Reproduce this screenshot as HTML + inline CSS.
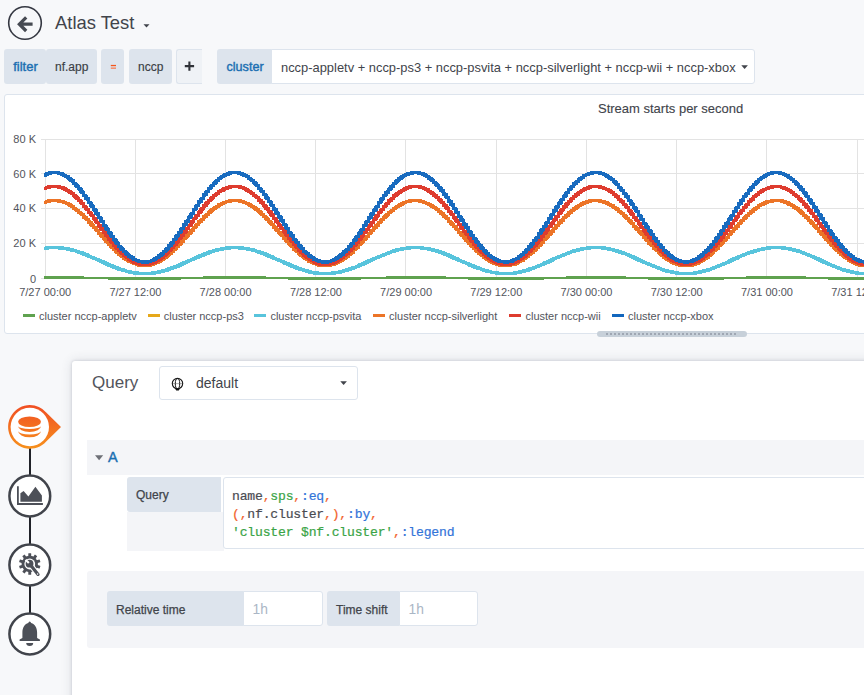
<!DOCTYPE html>
<html><head><meta charset="utf-8">
<style>
*{box-sizing:border-box;margin:0;padding:0}
html,body{width:864px;height:695px;overflow:hidden;background:#f7f8fa;font-family:"Liberation Sans",sans-serif;color:#52545c}
.abs{position:absolute}
.lbl{position:absolute;top:49px;height:35px;background:#dde4ed;font-size:13px;line-height:36px;color:#3b3e45;white-space:nowrap;-webkit-text-stroke-width:0.15px}
.kw{color:#1a6fb2;-webkit-text-stroke-width:0.4px}
.med{-webkit-text-stroke-width:0.25px}
</style></head><body>
<!-- header -->
<svg class="abs" style="left:0;top:0" width="50" height="46" viewBox="0 0 50 46">
 <circle cx="25" cy="23" r="16.3" fill="none" stroke="#343741" stroke-width="1.6"/>
 <path d="M26.2,17.4 L19.4,24.2 L26.2,31 M20,24.2 H32.6" fill="none" stroke="#464a52" stroke-width="3.3" stroke-linejoin="miter"/>
</svg>
<div class="abs" style="left:55px;top:10.7px;font-size:18.4px;line-height:24px;color:#41444b">Atlas Test</div>
<svg class="abs" style="left:143px;top:23.6px" width="7" height="4"><path d="M0.5,0.3 H6.5 L3.5,3.6Z" fill="#41444b"/></svg>

<!-- variables row -->
<div class="lbl kw" style="left:4px;width:42px;border-radius:3px;padding-left:9.2px;font-size:13px;line-height:36px">filter</div>
<div class="lbl" style="left:46px;width:51px;padding-left:9px;border-radius:3px;font-size:12px">nf.app</div>
<div class="lbl" style="left:101px;width:23px;border-radius:3px"></div><svg class="abs" style="left:110px;top:64px" width="7" height="6"><rect x="0.8" y="0.9" width="5.2" height="1.3" fill="#f4561c"/><rect x="0.8" y="3.5" width="5.2" height="1.3" fill="#f57d55"/></svg>
<div class="lbl" style="left:129px;width:43px;border-radius:3px;padding-left:9px;font-size:12px">nccp</div>
<div class="lbl" style="left:176px;width:26px;border-radius:3px 0 0 3px;background:#eff2f6;border:1px solid #dde4ed;border-right:none"></div>
<svg class="abs" style="left:184px;top:61px" width="11" height="11"><path d="M5.4,0.5V9.8M0.8,5.1H10.1" stroke="#2f3238" stroke-width="2.1"/></svg>
<div class="lbl kw" style="left:217px;width:55px;border-radius:3px 0 0 3px;padding-left:9.5px;font-size:12.6px;line-height:36.5px">cluster</div>
<div class="lbl" style="left:271px;width:484px;background:#fff;border:1px solid #dde4ed;border-radius:0 3px 3px 0;padding-left:9px;line-height:35.5px;font-size:12.9px;-webkit-text-stroke:0;color:#41444b">nccp-appletv + nccp-ps3 + nccp-psvita + nccp-silverlight + nccp-wii + nccp-xbox</div>
<svg class="abs" style="left:741px;top:65px" width="8" height="5"><path d="M0.3,0.3 H6.9 L3.6,3.9Z" fill="#41444b"/></svg>

<!-- panel -->
<div class="abs" style="left:4px;top:94px;width:1340px;height:240px;background:#fff;border:1px solid #dde4ed;border-radius:3px"></div>
<div class="abs" style="left:598px;top:101px;font-size:13px;line-height:16px;color:#41444b;white-space:nowrap;-webkit-text-stroke-width:0.12px">Stream starts per second</div>
<svg class="abs" style="left:0;top:0" width="864" height="340" viewBox="0 0 864 340">
 <g stroke="#e3e3e3" stroke-width="1" shape-rendering="crispEdges">
  <path d="M41,139.5H864M41,173.5H864M41,208.5H864M41,243.5H864M41,278.5H864"/>
  <path d="M45.5,139V279M135.5,139V279M225.5,139V279M315.5,139V279M405.5,139V279M496.5,139V279M586.5,139V279M676.5,139V279M766.5,139V279M857.5,139V279"/>
 </g>
 <g fill="none" stroke-width="3.5" stroke-linejoin="round" shape-rendering="crispEdges">
<path d="M43.5,277.7H46.0V277.7H48.5V277.7H51.0V277.7H53.5V277.7H56.0V277.7H58.5V277.7H61.0V277.7H63.5V277.7H66.0V277.7H68.5V277.8H71.0V277.8H73.5V277.8H76.0V277.8H78.5V277.8H81.0V277.8H83.5V277.9H86.0V277.9H88.5V277.9H91.0V277.9H93.5V277.9H96.0V278.0H98.5V278.0H101.0V278.0H103.5V278.0H106.0V278.0H108.5V278.1H111.0V278.1H113.5V278.1H116.0V278.1H118.5V278.1H121.0V278.2H123.5V278.2H126.0V278.2H128.5V278.2H131.0V278.2H133.5V278.2H136.0V278.2H138.5V278.2H141.0V278.2H143.5V278.2H146.0V278.2H148.5V278.2H151.0V278.2H153.5V278.2H156.0V278.2H158.5V278.2H161.0V278.2H163.5V278.2H166.0V278.2H168.5V278.1H171.0V278.1H173.5V278.1H176.0V278.1H178.5V278.1H181.0V278.0H183.5V278.0H186.0V278.0H188.5V278.0H191.0V278.0H193.5V277.9H196.0V277.9H198.5V277.9H201.0V277.9H203.5V277.8H206.0V277.8H208.5V277.8H211.0V277.8H213.5V277.8H216.0V277.8H218.5V277.8H221.0V277.7H223.5V277.7H226.0V277.7H228.5V277.7H231.0V277.7H233.5V277.7H236.0V277.7H238.5V277.7H241.0V277.7H243.5V277.7H246.0V277.7H248.5V277.8H251.0V277.8H253.5V277.8H256.0V277.8H258.5V277.8H261.0V277.8H263.5V277.8H266.0V277.9H268.5V277.9H271.0V277.9H273.5V277.9H276.0V278.0H278.5V278.0H281.0V278.0H283.5V278.0H286.0V278.0H288.5V278.1H291.0V278.1H293.5V278.1H296.0V278.1H298.5V278.1H301.0V278.2H303.5V278.2H306.0V278.2H308.5V278.2H311.0V278.2H313.5V278.2H316.0V278.2H318.5V278.2H321.0V278.2H323.5V278.2H326.0V278.2H328.5V278.2H331.0V278.2H333.5V278.2H336.0V278.2H338.5V278.2H341.0V278.2H343.5V278.2H346.0V278.2H348.5V278.1H351.0V278.1H353.5V278.1H356.0V278.1H358.5V278.1H361.0V278.0H363.5V278.0H366.0V278.0H368.5V278.0H371.0V278.0H373.5V277.9H376.0V277.9H378.5V277.9H381.0V277.9H383.5V277.9H386.0V277.8H388.5V277.8H391.0V277.8H393.5V277.8H396.0V277.8H398.5V277.8H401.0V277.7H403.5V277.7H406.0V277.7H408.5V277.7H411.0V277.7H413.5V277.7H416.0V277.7H418.5V277.7H421.0V277.7H423.5V277.7H426.0V277.7H428.5V277.8H431.0V277.8H433.5V277.8H436.0V277.8H438.5V277.8H441.0V277.8H443.5V277.8H446.0V277.9H448.5V277.9H451.0V277.9H453.5V277.9H456.0V278.0H458.5V278.0H461.0V278.0H463.5V278.0H466.0V278.0H468.5V278.1H471.0V278.1H473.5V278.1H476.0V278.1H478.5V278.1H481.0V278.2H483.5V278.2H486.0V278.2H488.5V278.2H491.0V278.2H493.5V278.2H496.0V278.2H498.5V278.2H501.0V278.2H503.5V278.2H506.0V278.2H508.5V278.2H511.0V278.2H513.5V278.2H516.0V278.2H518.5V278.2H521.0V278.2H523.5V278.2H526.0V278.2H528.5V278.2H531.0V278.1H533.5V278.1H536.0V278.1H538.5V278.1H541.0V278.1H543.5V278.0H546.0V278.0H548.5V278.0H551.0V278.0H553.5V277.9H556.0V277.9H558.5V277.9H561.0V277.9H563.5V277.9H566.0V277.8H568.5V277.8H571.0V277.8H573.5V277.8H576.0V277.8H578.5V277.8H581.0V277.7H583.5V277.7H586.0V277.7H588.5V277.7H591.0V277.7H593.5V277.7H596.0V277.7H598.5V277.7H601.0V277.7H603.5V277.7H606.0V277.7H608.5V277.7H611.0V277.8H613.5V277.8H616.0V277.8H618.5V277.8H621.0V277.8H623.5V277.8H626.0V277.9H628.5V277.9H631.0V277.9H633.5V277.9H636.0V277.9H638.5V278.0H641.0V278.0H643.5V278.0H646.0V278.0H648.5V278.1H651.0V278.1H653.5V278.1H656.0V278.1H658.5V278.1H661.0V278.2H663.5V278.2H666.0V278.2H668.5V278.2H671.0V278.2H673.5V278.2H676.0V278.2H678.5V278.2H681.0V278.2H683.5V278.2H686.0V278.2H688.5V278.2H691.0V278.2H693.5V278.2H696.0V278.2H698.5V278.2H701.0V278.2H703.5V278.2H706.0V278.2H708.5V278.2H711.0V278.1H713.5V278.1H716.0V278.1H718.5V278.1H721.0V278.1H723.5V278.0H726.0V278.0H728.5V278.0H731.0V278.0H733.5V277.9H736.0V277.9H738.5V277.9H741.0V277.9H743.5V277.9H746.0V277.8H748.5V277.8H751.0V277.8H753.5V277.8H756.0V277.8H758.5V277.8H761.0V277.7H763.5V277.7H766.0V277.7H768.5V277.7H771.0V277.7H773.5V277.7H776.0V277.7H778.5V277.7H781.0V277.7H783.5V277.7H786.0V277.7H788.5V277.7H791.0V277.8H793.5V277.8H796.0V277.8H798.5V277.8H801.0V277.8H803.5V277.8H806.0V277.9H808.5V277.9H811.0V277.9H813.5V277.9H816.0V277.9H818.5V278.0H821.0V278.0H823.5V278.0H826.0V278.0H828.5V278.1H831.0V278.1H833.5V278.1H836.0V278.1H838.5V278.1H841.0V278.2H843.5V278.2H846.0V278.2H848.5V278.2H851.0V278.2H853.5V278.2H856.0V278.2H858.5V278.2H861.0V278.2H863.5V278.2H866.0V278.2" stroke="#e6a81a" stroke-width="2.8"/>
<path d="M43.5,277.7H46.0V277.7H48.5V277.7H51.0V277.7H53.5V277.7H56.0V277.7H58.5V277.7H61.0V277.7H63.5V277.7H66.0V277.7H68.5V277.8H71.0V277.8H73.5V277.8H76.0V277.8H78.5V277.8H81.0V277.8H83.5V277.9H86.0V277.9H88.5V277.9H91.0V277.9H93.5V277.9H96.0V278.0H98.5V278.0H101.0V278.0H103.5V278.0H106.0V278.0H108.5V278.1H111.0V278.1H113.5V278.1H116.0V278.1H118.5V278.1H121.0V278.2H123.5V278.2H126.0V278.2H128.5V278.2H131.0V278.2H133.5V278.2H136.0V278.2H138.5V278.2H141.0V278.2H143.5V278.2H146.0V278.2H148.5V278.2H151.0V278.2H153.5V278.2H156.0V278.2H158.5V278.2H161.0V278.2H163.5V278.2H166.0V278.2H168.5V278.1H171.0V278.1H173.5V278.1H176.0V278.1H178.5V278.1H181.0V278.0H183.5V278.0H186.0V278.0H188.5V278.0H191.0V278.0H193.5V277.9H196.0V277.9H198.5V277.9H201.0V277.9H203.5V277.8H206.0V277.8H208.5V277.8H211.0V277.8H213.5V277.8H216.0V277.8H218.5V277.8H221.0V277.7H223.5V277.7H226.0V277.7H228.5V277.7H231.0V277.7H233.5V277.7H236.0V277.7H238.5V277.7H241.0V277.7H243.5V277.7H246.0V277.7H248.5V277.8H251.0V277.8H253.5V277.8H256.0V277.8H258.5V277.8H261.0V277.8H263.5V277.8H266.0V277.9H268.5V277.9H271.0V277.9H273.5V277.9H276.0V278.0H278.5V278.0H281.0V278.0H283.5V278.0H286.0V278.0H288.5V278.1H291.0V278.1H293.5V278.1H296.0V278.1H298.5V278.1H301.0V278.2H303.5V278.2H306.0V278.2H308.5V278.2H311.0V278.2H313.5V278.2H316.0V278.2H318.5V278.2H321.0V278.2H323.5V278.2H326.0V278.2H328.5V278.2H331.0V278.2H333.5V278.2H336.0V278.2H338.5V278.2H341.0V278.2H343.5V278.2H346.0V278.2H348.5V278.1H351.0V278.1H353.5V278.1H356.0V278.1H358.5V278.1H361.0V278.0H363.5V278.0H366.0V278.0H368.5V278.0H371.0V278.0H373.5V277.9H376.0V277.9H378.5V277.9H381.0V277.9H383.5V277.9H386.0V277.8H388.5V277.8H391.0V277.8H393.5V277.8H396.0V277.8H398.5V277.8H401.0V277.7H403.5V277.7H406.0V277.7H408.5V277.7H411.0V277.7H413.5V277.7H416.0V277.7H418.5V277.7H421.0V277.7H423.5V277.7H426.0V277.7H428.5V277.8H431.0V277.8H433.5V277.8H436.0V277.8H438.5V277.8H441.0V277.8H443.5V277.8H446.0V277.9H448.5V277.9H451.0V277.9H453.5V277.9H456.0V278.0H458.5V278.0H461.0V278.0H463.5V278.0H466.0V278.0H468.5V278.1H471.0V278.1H473.5V278.1H476.0V278.1H478.5V278.1H481.0V278.2H483.5V278.2H486.0V278.2H488.5V278.2H491.0V278.2H493.5V278.2H496.0V278.2H498.5V278.2H501.0V278.2H503.5V278.2H506.0V278.2H508.5V278.2H511.0V278.2H513.5V278.2H516.0V278.2H518.5V278.2H521.0V278.2H523.5V278.2H526.0V278.2H528.5V278.2H531.0V278.1H533.5V278.1H536.0V278.1H538.5V278.1H541.0V278.1H543.5V278.0H546.0V278.0H548.5V278.0H551.0V278.0H553.5V277.9H556.0V277.9H558.5V277.9H561.0V277.9H563.5V277.9H566.0V277.8H568.5V277.8H571.0V277.8H573.5V277.8H576.0V277.8H578.5V277.8H581.0V277.7H583.5V277.7H586.0V277.7H588.5V277.7H591.0V277.7H593.5V277.7H596.0V277.7H598.5V277.7H601.0V277.7H603.5V277.7H606.0V277.7H608.5V277.7H611.0V277.8H613.5V277.8H616.0V277.8H618.5V277.8H621.0V277.8H623.5V277.8H626.0V277.9H628.5V277.9H631.0V277.9H633.5V277.9H636.0V277.9H638.5V278.0H641.0V278.0H643.5V278.0H646.0V278.0H648.5V278.1H651.0V278.1H653.5V278.1H656.0V278.1H658.5V278.1H661.0V278.2H663.5V278.2H666.0V278.2H668.5V278.2H671.0V278.2H673.5V278.2H676.0V278.2H678.5V278.2H681.0V278.2H683.5V278.2H686.0V278.2H688.5V278.2H691.0V278.2H693.5V278.2H696.0V278.2H698.5V278.2H701.0V278.2H703.5V278.2H706.0V278.2H708.5V278.2H711.0V278.1H713.5V278.1H716.0V278.1H718.5V278.1H721.0V278.1H723.5V278.0H726.0V278.0H728.5V278.0H731.0V278.0H733.5V277.9H736.0V277.9H738.5V277.9H741.0V277.9H743.5V277.9H746.0V277.8H748.5V277.8H751.0V277.8H753.5V277.8H756.0V277.8H758.5V277.8H761.0V277.7H763.5V277.7H766.0V277.7H768.5V277.7H771.0V277.7H773.5V277.7H776.0V277.7H778.5V277.7H781.0V277.7H783.5V277.7H786.0V277.7H788.5V277.7H791.0V277.8H793.5V277.8H796.0V277.8H798.5V277.8H801.0V277.8H803.5V277.8H806.0V277.9H808.5V277.9H811.0V277.9H813.5V277.9H816.0V277.9H818.5V278.0H821.0V278.0H823.5V278.0H826.0V278.0H828.5V278.1H831.0V278.1H833.5V278.1H836.0V278.1H838.5V278.1H841.0V278.2H843.5V278.2H846.0V278.2H848.5V278.2H851.0V278.2H853.5V278.2H856.0V278.2H858.5V278.2H861.0V278.2H863.5V278.2H866.0V278.2" stroke="#5fa24f" stroke-width="2.8"/>
<path d="M43.5,248.3H46.0V248.0H48.5V247.7H51.0V247.6H53.5V247.6H56.0V247.6H58.5V247.8H61.0V248.1H63.5V248.4H66.0V248.9H68.5V249.4H71.0V250.0H73.5V250.7H76.0V251.5H78.5V252.3H81.0V253.2H83.5V254.2H86.0V255.2H88.5V256.3H91.0V257.4H93.5V258.5H96.0V259.6H98.5V260.7H101.0V261.9H103.5V263.0H106.0V264.1H108.5V265.2H111.0V266.2H113.5V267.2H116.0V268.2H118.5V269.1H121.0V269.9H123.5V270.6H126.0V271.3H128.5V271.9H131.0V272.5H133.5V272.9H136.0V273.2H138.5V273.5H141.0V273.6H143.5V273.6H146.0V273.6H148.5V273.4H151.0V273.2H153.5V272.8H156.0V272.4H158.5V271.9H161.0V271.2H163.5V270.6H166.0V269.8H168.5V268.9H171.0V268.0H173.5V267.1H176.0V266.1H178.5V265.0H181.0V263.9H183.5V262.8H186.0V261.7H188.5V260.6H191.0V259.4H193.5V258.3H196.0V257.2H198.5V256.1H201.0V255.1H203.5V254.1H206.0V253.1H208.5V252.2H211.0V251.4H213.5V250.6H216.0V249.9H218.5V249.3H221.0V248.8H223.5V248.4H226.0V248.0H228.5V247.8H231.0V247.6H233.5V247.6H236.0V247.6H238.5V247.8H241.0V248.0H243.5V248.3H246.0V248.8H248.5V249.3H251.0V249.9H253.5V250.6H256.0V251.4H258.5V252.2H261.0V253.1H263.5V254.0H266.0V255.0H268.5V256.1H271.0V257.2H273.5V258.3H276.0V259.4H278.5V260.5H281.0V261.7H283.5V262.8H286.0V263.9H288.5V265.0H291.0V266.0H293.5V267.0H296.0V268.0H298.5V268.9H301.0V269.7H303.5V270.5H306.0V271.2H308.5V271.8H311.0V272.4H313.5V272.8H316.0V273.2H318.5V273.4H321.0V273.6H323.5V273.6H326.0V273.6H328.5V273.5H331.0V273.2H333.5V272.9H336.0V272.5H338.5V272.0H341.0V271.4H343.5V270.7H346.0V269.9H348.5V269.1H351.0V268.2H353.5V267.3H356.0V266.3H358.5V265.2H361.0V264.1H363.5V263.0H366.0V261.9H368.5V260.8H371.0V259.6H373.5V258.5H376.0V257.4H378.5V256.3H381.0V255.3H383.5V254.3H386.0V253.3H388.5V252.4H391.0V251.5H393.5V250.8H396.0V250.0H398.5V249.4H401.0V248.9H403.5V248.4H406.0V248.1H408.5V247.8H411.0V247.6H413.5V247.6H416.0V247.6H418.5V247.7H421.0V248.0H423.5V248.3H426.0V248.7H428.5V249.2H431.0V249.8H433.5V250.5H436.0V251.2H438.5V252.0H441.0V252.9H443.5V253.9H446.0V254.9H448.5V255.9H451.0V257.0H453.5V258.1H456.0V259.2H458.5V260.3H461.0V261.5H463.5V262.6H466.0V263.7H468.5V264.8H471.0V265.8H473.5V266.9H476.0V267.8H478.5V268.7H481.0V269.6H483.5V270.4H486.0V271.1H488.5V271.7H491.0V272.3H493.5V272.7H496.0V273.1H498.5V273.4H501.0V273.6H503.5V273.6H506.0V273.6H508.5V273.5H511.0V273.3H513.5V273.0H516.0V272.6H518.5V272.1H521.0V271.5H523.5V270.8H526.0V270.1H528.5V269.2H531.0V268.4H533.5V267.4H536.0V266.4H538.5V265.4H541.0V264.3H543.5V263.2H546.0V262.1H548.5V261.0H551.0V259.8H553.5V258.7H556.0V257.6H558.5V256.5H561.0V255.5H563.5V254.4H566.0V253.5H568.5V252.5H571.0V251.7H573.5V250.9H576.0V250.2H578.5V249.5H581.0V249.0H583.5V248.5H586.0V248.1H588.5V247.9H591.0V247.7H593.5V247.6H596.0V247.6H598.5V247.7H601.0V247.9H603.5V248.2H606.0V248.6H608.5V249.1H611.0V249.7H613.5V250.3H616.0V251.1H618.5V251.9H621.0V252.8H623.5V253.7H626.0V254.7H628.5V255.7H631.0V256.8H633.5V257.9H636.0V259.0H638.5V260.1H641.0V261.3H643.5V262.4H646.0V263.5H648.5V264.6H651.0V265.7H653.5V266.7H656.0V267.7H658.5V268.6H661.0V269.5H663.5V270.3H666.0V271.0H668.5V271.6H671.0V272.2H673.5V272.7H676.0V273.0H678.5V273.3H681.0V273.5H683.5V273.6H686.0V273.6H688.5V273.5H691.0V273.3H693.5V273.0H696.0V272.6H698.5V272.2H701.0V271.6H703.5V270.9H706.0V270.2H708.5V269.4H711.0V268.5H713.5V267.6H716.0V266.6H718.5V265.6H721.0V264.5H723.5V263.4H726.0V262.3H728.5V261.2H731.0V260.0H733.5V258.9H736.0V257.8H738.5V256.7H741.0V255.6H743.5V254.6H746.0V253.6H748.5V252.7H751.0V251.8H753.5V251.0H756.0V250.3H758.5V249.6H761.0V249.1H763.5V248.6H766.0V248.2H768.5V247.9H771.0V247.7H773.5V247.6H776.0V247.6H778.5V247.7H781.0V247.9H783.5V248.2H786.0V248.5H788.5V249.0H791.0V249.6H793.5V250.2H796.0V250.9H798.5V251.7H801.0V252.6H803.5V253.5H806.0V254.5H808.5V255.5H811.0V256.6H813.5V257.7H816.0V258.8H818.5V259.9H821.0V261.1H823.5V262.2H826.0V263.3H828.5V264.4H831.0V265.5H833.5V266.5H836.0V267.5H838.5V268.4H841.0V269.3H843.5V270.1H846.0V270.9H848.5V271.5H851.0V272.1H853.5V272.6H856.0V273.0H858.5V273.3H861.0V273.5H863.5V273.6H866.0V273.6" stroke="#58c4dc"/>
<path d="M43.5,202.3H46.0V201.5H48.5V200.9H51.0V200.6H53.5V200.5H56.0V200.7H58.5V201.1H61.0V201.7H63.5V202.6H66.0V203.7H68.5V205.0H71.0V206.6H73.5V208.4H76.0V210.3H78.5V212.4H81.0V214.7H83.5V217.1H86.0V219.6H88.5V222.2H91.0V225.0H93.5V227.7H96.0V230.5H98.5V233.4H101.0V236.2H103.5V239.0H106.0V241.8H108.5V244.5H111.0V247.1H113.5V249.6H116.0V252.0H118.5V254.2H121.0V256.3H123.5V258.2H126.0V259.9H128.5V261.4H131.0V262.7H133.5V263.7H136.0V264.6H138.5V265.2H141.0V265.5H143.5V265.6H146.0V265.5H148.5V265.1H151.0V264.5H153.5V263.6H156.0V262.5H158.5V261.2H161.0V259.7H163.5V257.9H166.0V256.0H168.5V253.9H171.0V251.7H173.5V249.3H176.0V246.7H178.5V244.1H181.0V241.4H183.5V238.7H186.0V235.8H188.5V233.0H191.0V230.2H193.5V227.4H196.0V224.6H198.5V221.9H201.0V219.3H203.5V216.8H206.0V214.4H208.5V212.1H211.0V210.0H213.5V208.1H216.0V206.4H218.5V204.9H221.0V203.6H223.5V202.5H226.0V201.6H228.5V201.0H231.0V200.6H233.5V200.5H236.0V200.6H238.5V201.0H241.0V201.6H243.5V202.4H246.0V203.5H248.5V204.8H251.0V206.3H253.5V208.0H256.0V209.9H258.5V212.0H261.0V214.3H263.5V216.6H266.0V219.2H268.5V221.8H271.0V224.5H273.5V227.2H276.0V230.0H278.5V232.9H281.0V235.7H283.5V238.5H286.0V241.3H288.5V244.0H291.0V246.6H293.5V249.2H296.0V251.6H298.5V253.8H301.0V255.9H303.5V257.9H306.0V259.6H308.5V261.1H311.0V262.5H313.5V263.6H316.0V264.5H318.5V265.1H321.0V265.5H323.5V265.6H326.0V265.5H328.5V265.2H331.0V264.6H333.5V263.8H336.0V262.7H338.5V261.5H341.0V260.0H343.5V258.3H346.0V256.4H348.5V254.3H351.0V252.1H353.5V249.7H356.0V247.2H358.5V244.6H361.0V241.9H363.5V239.1H366.0V236.3H368.5V233.5H371.0V230.7H373.5V227.9H376.0V225.1H378.5V222.4H381.0V219.7H383.5V217.2H386.0V214.8H388.5V212.5H391.0V210.4H393.5V208.4H396.0V206.7H398.5V205.1H401.0V203.8H403.5V202.6H406.0V201.7H408.5V201.1H411.0V200.7H413.5V200.5H416.0V200.6H418.5V200.9H421.0V201.4H423.5V202.3H426.0V203.3H428.5V204.6H431.0V206.0H433.5V207.7H436.0V209.6H438.5V211.6H441.0V213.9H443.5V216.2H446.0V218.7H448.5V221.3H451.0V224.0H453.5V226.7H456.0V229.5H458.5V232.4H461.0V235.2H463.5V238.0H466.0V240.8H468.5V243.5H471.0V246.2H473.5V248.7H476.0V251.1H478.5V253.4H481.0V255.6H483.5V257.5H486.0V259.3H488.5V260.9H491.0V262.3H493.5V263.4H496.0V264.3H498.5V265.0H501.0V265.4H503.5V265.6H506.0V265.6H508.5V265.3H511.0V264.7H513.5V264.0H516.0V262.9H518.5V261.7H521.0V260.2H523.5V258.6H526.0V256.7H528.5V254.7H531.0V252.5H533.5V250.1H536.0V247.6H538.5V245.1H541.0V242.4H543.5V239.6H546.0V236.8H548.5V234.0H551.0V231.2H553.5V228.3H556.0V225.6H558.5V222.8H561.0V220.2H563.5V217.6H566.0V215.2H568.5V212.9H571.0V210.7H573.5V208.8H576.0V207.0H578.5V205.4H581.0V204.0H583.5V202.8H586.0V201.9H588.5V201.2H591.0V200.7H593.5V200.5H596.0V200.5H598.5V200.8H601.0V201.3H603.5V202.1H606.0V203.1H608.5V204.3H611.0V205.8H613.5V207.4H616.0V209.2H618.5V211.3H621.0V213.5H623.5V215.8H626.0V218.3H628.5V220.8H631.0V223.5H633.5V226.3H636.0V229.0H638.5V231.9H641.0V234.7H643.5V237.5H646.0V240.3H648.5V243.1H651.0V245.7H653.5V248.3H656.0V250.7H658.5V253.0H661.0V255.2H663.5V257.2H666.0V259.0H668.5V260.6H671.0V262.0H673.5V263.2H676.0V264.2H678.5V264.9H681.0V265.4H683.5V265.6H686.0V265.6H688.5V265.4H691.0V264.9H693.5V264.1H696.0V263.1H698.5V261.9H701.0V260.5H703.5V258.9H706.0V257.1H708.5V255.0H711.0V252.9H713.5V250.5H716.0V248.1H718.5V245.5H721.0V242.9H723.5V240.1H726.0V237.3H728.5V234.5H731.0V231.7H733.5V228.8H736.0V226.1H738.5V223.3H741.0V220.6H743.5V218.1H746.0V215.6H748.5V213.3H751.0V211.1H753.5V209.1H756.0V207.3H758.5V205.6H761.0V204.2H763.5V203.0H766.0V202.0H768.5V201.3H771.0V200.8H773.5V200.5H776.0V200.5H778.5V200.7H781.0V201.2H783.5V201.9H786.0V202.9H788.5V204.1H791.0V205.5H793.5V207.1H796.0V208.9H798.5V210.9H801.0V213.1H803.5V215.4H806.0V217.8H808.5V220.4H811.0V223.0H813.5V225.8H816.0V228.6H818.5V231.4H821.0V234.2H823.5V237.0H826.0V239.8H828.5V242.6H831.0V245.3H833.5V247.8H836.0V250.3H838.5V252.6H841.0V254.8H843.5V256.9H846.0V258.7H848.5V260.4H851.0V261.8H853.5V263.0H856.0V264.0H858.5V264.8H861.0V265.3H863.5V265.6H866.0V265.6" stroke="#ec7427"/>
<path d="M43.5,188.6H46.0V187.6H48.5V186.9H51.0V186.5H53.5V186.4H56.0V186.6H58.5V187.1H61.0V187.9H63.5V188.9H66.0V190.3H68.5V191.9H71.0V193.7H73.5V195.8H76.0V198.2H78.5V200.7H81.0V203.4H83.5V206.3H86.0V209.3H88.5V212.5H91.0V215.7H93.5V219.0H96.0V222.4H98.5V225.8H101.0V229.2H103.5V232.5H106.0V235.8H108.5V239.1H111.0V242.2H113.5V245.2H116.0V248.0H118.5V250.7H121.0V253.2H123.5V255.5H126.0V257.5H128.5V259.3H131.0V260.9H133.5V262.2H136.0V263.2H138.5V263.9H141.0V264.3H143.5V264.4H146.0V264.3H148.5V263.8H151.0V263.0H153.5V262.0H156.0V260.7H158.5V259.1H161.0V257.3H163.5V255.2H166.0V252.9H168.5V250.4H171.0V247.7H173.5V244.8H176.0V241.8H178.5V238.7H181.0V235.4H183.5V232.1H186.0V228.7H188.5V225.3H191.0V222.0H193.5V218.6H196.0V215.3H198.5V212.0H201.0V208.9H203.5V205.9H206.0V203.0H208.5V200.3H211.0V197.8H213.5V195.5H216.0V193.5H218.5V191.7H221.0V190.1H223.5V188.8H226.0V187.8H228.5V187.0H231.0V186.6H233.5V186.4H236.0V186.6H238.5V187.0H241.0V187.7H243.5V188.7H246.0V190.0H248.5V191.6H251.0V193.4H253.5V195.4H256.0V197.7H258.5V200.2H261.0V202.9H263.5V205.8H266.0V208.8H268.5V211.9H271.0V215.1H273.5V218.4H276.0V221.8H278.5V225.2H281.0V228.6H283.5V232.0H286.0V235.3H288.5V238.5H291.0V241.7H293.5V244.7H296.0V247.6H298.5V250.3H301.0V252.8H303.5V255.1H306.0V257.2H308.5V259.0H311.0V260.6H313.5V262.0H316.0V263.0H318.5V263.8H321.0V264.2H323.5V264.4H326.0V264.3H328.5V263.9H331.0V263.2H333.5V262.2H336.0V260.9H338.5V259.4H341.0V257.6H343.5V255.6H346.0V253.3H348.5V250.8H351.0V248.2H353.5V245.3H356.0V242.3H358.5V239.2H361.0V236.0H363.5V232.7H366.0V229.3H368.5V225.9H371.0V222.6H373.5V219.2H376.0V215.9H378.5V212.6H381.0V209.5H383.5V206.4H386.0V203.5H388.5V200.8H391.0V198.3H393.5V195.9H396.0V193.8H398.5V192.0H401.0V190.3H403.5V189.0H406.0V187.9H408.5V187.1H411.0V186.6H413.5V186.4H416.0V186.5H418.5V186.9H421.0V187.6H423.5V188.5H426.0V189.8H428.5V191.3H431.0V193.1H433.5V195.1H436.0V197.3H438.5V199.8H441.0V202.4H443.5V205.2H446.0V208.2H448.5V211.3H451.0V214.6H453.5V217.9H456.0V221.2H458.5V224.6H461.0V228.0H463.5V231.4H466.0V234.7H468.5V237.9H471.0V241.1H473.5V244.2H476.0V247.1H478.5V249.8H481.0V252.4H483.5V254.7H486.0V256.8H488.5V258.7H491.0V260.4H493.5V261.7H496.0V262.8H498.5V263.7H501.0V264.2H503.5V264.4H506.0V264.4H508.5V264.0H511.0V263.3H513.5V262.4H516.0V261.2H518.5V259.7H521.0V258.0H523.5V256.0H526.0V253.7H528.5V251.3H531.0V248.7H533.5V245.8H536.0V242.9H538.5V239.8H541.0V236.6H543.5V233.3H546.0V229.9H548.5V226.5H551.0V223.2H553.5V219.8H556.0V216.4H558.5V213.2H561.0V210.0H563.5V206.9H566.0V204.0H568.5V201.3H571.0V198.7H573.5V196.3H576.0V194.2H578.5V192.3H581.0V190.6H583.5V189.2H586.0V188.1H588.5V187.2H591.0V186.7H593.5V186.4H596.0V186.5H598.5V186.8H601.0V187.4H603.5V188.3H606.0V189.5H608.5V191.0H611.0V192.7H613.5V194.7H616.0V196.9H618.5V199.3H621.0V201.9H623.5V204.7H626.0V207.7H628.5V210.8H631.0V214.0H633.5V217.3H636.0V220.6H638.5V224.0H641.0V227.4H643.5V230.8H646.0V234.1H648.5V237.4H651.0V240.6H653.5V243.6H656.0V246.6H658.5V249.3H661.0V251.9H663.5V254.3H666.0V256.5H668.5V258.4H671.0V260.1H673.5V261.5H676.0V262.7H678.5V263.5H681.0V264.1H683.5V264.4H686.0V264.4H688.5V264.1H691.0V263.5H693.5V262.6H696.0V261.4H698.5V260.0H701.0V258.3H703.5V256.3H706.0V254.1H708.5V251.7H711.0V249.1H713.5V246.4H716.0V243.4H718.5V240.3H721.0V237.1H723.5V233.9H726.0V230.5H728.5V227.1H731.0V223.7H733.5V220.4H736.0V217.0H738.5V213.7H741.0V210.5H743.5V207.5H746.0V204.5H748.5V201.7H751.0V199.1H753.5V196.7H756.0V194.5H758.5V192.6H761.0V190.9H763.5V189.4H766.0V188.3H768.5V187.4H771.0V186.8H773.5V186.5H776.0V186.4H778.5V186.7H781.0V187.3H783.5V188.2H786.0V189.3H788.5V190.7H791.0V192.4H793.5V194.3H796.0V196.5H798.5V198.9H801.0V201.5H803.5V204.2H806.0V207.2H808.5V210.2H811.0V213.4H813.5V216.7H816.0V220.0H818.5V223.4H821.0V226.8H823.5V230.2H826.0V233.5H828.5V236.8H831.0V240.0H833.5V243.1H836.0V246.1H838.5V248.9H841.0V251.5H843.5V253.9H846.0V256.1H848.5V258.1H851.0V259.8H853.5V261.3H856.0V262.5H858.5V263.4H861.0V264.0H863.5V264.4H866.0V264.4" stroke="#de3c2f"/>
<path d="M43.5,175.0H46.0V173.9H48.5V173.1H51.0V172.6H53.5V172.5H56.0V172.7H58.5V173.3H61.0V174.2H63.5V175.4H66.0V176.9H68.5V178.8H71.0V180.9H73.5V183.3H76.0V186.0H78.5V188.9H81.0V192.0H83.5V195.3H86.0V198.8H88.5V202.4H91.0V206.1H93.5V209.9H96.0V213.8H98.5V217.7H101.0V221.6H103.5V225.4H106.0V229.2H108.5V232.9H111.0V236.5H113.5V239.9H116.0V243.2H118.5V246.3H121.0V249.1H123.5V251.7H126.0V254.1H128.5V256.2H131.0V257.9H133.5V259.4H136.0V260.5H138.5V261.4H141.0V261.8H143.5V262.0H146.0V261.8H148.5V261.3H151.0V260.4H153.5V259.2H156.0V257.7H158.5V255.9H161.0V253.8H163.5V251.4H166.0V248.8H168.5V245.9H171.0V242.8H173.5V239.5H176.0V236.0H178.5V232.4H181.0V228.7H183.5V224.9H186.0V221.1H188.5V217.2H191.0V213.3H193.5V209.4H196.0V205.6H198.5V201.9H201.0V198.3H203.5V194.9H206.0V191.6H208.5V188.5H211.0V185.6H213.5V183.0H216.0V180.6H218.5V178.5H221.0V176.7H223.5V175.2H226.0V174.1H228.5V173.2H231.0V172.7H233.5V172.5H236.0V172.7H238.5V173.2H241.0V174.0H243.5V175.2H246.0V176.6H248.5V178.4H251.0V180.5H253.5V182.9H256.0V185.5H258.5V188.4H261.0V191.4H263.5V194.7H266.0V198.2H268.5V201.7H271.0V205.4H273.5V209.2H276.0V213.1H278.5V217.0H281.0V220.9H283.5V224.7H286.0V228.6H288.5V232.3H291.0V235.9H293.5V239.3H296.0V242.6H298.5V245.8H301.0V248.6H303.5V251.3H306.0V253.7H308.5V255.8H311.0V257.6H313.5V259.2H316.0V260.4H318.5V261.2H321.0V261.8H323.5V262.0H326.0V261.9H328.5V261.4H331.0V260.6H333.5V259.5H336.0V258.0H338.5V256.2H341.0V254.2H343.5V251.9H346.0V249.3H348.5V246.4H351.0V243.4H353.5V240.1H356.0V236.7H358.5V233.1H361.0V229.4H363.5V225.6H366.0V221.7H368.5V217.9H371.0V214.0H373.5V210.1H376.0V206.3H378.5V202.6H381.0V198.9H383.5V195.5H386.0V192.1H388.5V189.0H391.0V186.1H393.5V183.4H396.0V181.0H398.5V178.9H401.0V177.0H403.5V175.5H406.0V174.2H408.5V173.3H411.0V172.8H413.5V172.5H416.0V172.6H418.5V173.1H421.0V173.8H423.5V174.9H426.0V176.4H428.5V178.1H431.0V180.1H433.5V182.4H436.0V185.0H438.5V187.8H441.0V190.9H443.5V194.1H446.0V197.5H448.5V201.1H451.0V204.8H453.5V208.6H456.0V212.4H458.5V216.3H461.0V220.2H463.5V224.1H466.0V227.9H468.5V231.6H471.0V235.3H473.5V238.7H476.0V242.1H478.5V245.2H481.0V248.2H483.5V250.8H486.0V253.3H488.5V255.5H491.0V257.3H493.5V258.9H496.0V260.2H498.5V261.1H501.0V261.7H503.5V262.0H506.0V261.9H508.5V261.5H511.0V260.8H513.5V259.7H516.0V258.3H518.5V256.6H521.0V254.6H523.5V252.3H526.0V249.7H528.5V246.9H531.0V243.9H533.5V240.7H536.0V237.3H538.5V233.7H541.0V230.0H543.5V226.3H546.0V222.4H548.5V218.5H551.0V214.7H553.5V210.8H556.0V207.0H558.5V203.2H561.0V199.6H563.5V196.1H566.0V192.7H568.5V189.6H571.0V186.6H573.5V183.9H576.0V181.4H578.5V179.2H581.0V177.3H583.5V175.7H586.0V174.4H588.5V173.5H591.0V172.8H593.5V172.5H596.0V172.6H598.5V173.0H601.0V173.7H603.5V174.7H606.0V176.1H608.5V177.8H611.0V179.7H613.5V182.0H616.0V184.5H618.5V187.3H621.0V190.3H623.5V193.5H626.0V196.9H628.5V200.5H631.0V204.1H633.5V207.9H636.0V211.7H638.5V215.6H641.0V219.5H643.5V223.4H646.0V227.2H648.5V231.0H651.0V234.6H653.5V238.1H656.0V241.5H658.5V244.7H661.0V247.7H663.5V250.4H666.0V252.9H668.5V255.1H671.0V257.0H673.5V258.7H676.0V260.0H678.5V261.0H681.0V261.6H683.5V262.0H686.0V261.9H688.5V261.6H691.0V260.9H693.5V259.9H696.0V258.5H698.5V256.9H701.0V254.9H703.5V252.7H706.0V250.2H708.5V247.4H711.0V244.5H713.5V241.3H716.0V237.9H718.5V234.4H721.0V230.7H723.5V226.9H726.0V223.1H728.5V219.2H731.0V215.3H733.5V211.5H736.0V207.6H738.5V203.9H741.0V200.2H743.5V196.7H746.0V193.3H748.5V190.1H751.0V187.1H753.5V184.3H756.0V181.8H758.5V179.6H761.0V177.6H763.5V176.0H766.0V174.6H768.5V173.6H771.0V172.9H773.5V172.6H776.0V172.5H778.5V172.9H781.0V173.5H783.5V174.5H786.0V175.8H788.5V177.5H791.0V179.4H793.5V181.6H796.0V184.1H798.5V186.8H801.0V189.8H803.5V193.0H806.0V196.3H808.5V199.8H811.0V203.5H813.5V207.2H816.0V211.1H818.5V214.9H821.0V218.8H823.5V222.7H826.0V226.6H828.5V230.3H831.0V234.0H833.5V237.5H836.0V240.9H838.5V244.1H841.0V247.1H843.5V249.9H846.0V252.5H848.5V254.7H851.0V256.7H853.5V258.4H856.0V259.8H858.5V260.8H861.0V261.5H863.5V261.9H866.0V262.0" stroke="#186bbf"/>
 </g>
 <g font-family="Liberation Sans" font-size="11" fill="#52545c" text-anchor="end">
  <text x="36" y="143">80 K</text><text x="36" y="177.5">60 K</text><text x="36" y="212.3">40 K</text><text x="36" y="247.1">20 K</text><text x="36" y="282.5">0</text>
 </g>
 <g font-family="Liberation Sans" font-size="11" fill="#52545c" text-anchor="middle">
  <text x="45.2" y="296">7/27 00:00</text><text x="135.4" y="296">7/27 12:00</text><text x="225.6" y="296">7/28 00:00</text><text x="315.9" y="296">7/28 12:00</text><text x="406.1" y="296">7/29 00:00</text><text x="496.3" y="296">7/29 12:00</text><text x="586.5" y="296">7/30 00:00</text><text x="676.7" y="296">7/30 12:00</text><text x="767.0" y="296">7/31 00:00</text><text x="857.2" y="296">7/31 12:00</text>
 </g>
</svg>
<!-- legend -->
<div class="abs" style="left:23px;top:314px;width:12px;height:3px;background:#5fa24f"></div><div class="abs" style="left:39px;top:308px;font-size:11px;line-height:16px;color:#52545c;white-space:nowrap">cluster nccp-appletv</div>
<div class="abs" style="left:147.8px;top:314px;width:12px;height:3px;background:#e6a81a"></div><div class="abs" style="left:163.8px;top:308px;font-size:11px;line-height:16px;color:#52545c;white-space:nowrap">cluster nccp-ps3</div>
<div class="abs" style="left:254.4px;top:314px;width:12px;height:3px;background:#58c4dc"></div><div class="abs" style="left:270.4px;top:308px;font-size:11px;line-height:16px;color:#52545c;white-space:nowrap">cluster nccp-psvita</div>
<div class="abs" style="left:373.1px;top:314px;width:12px;height:3px;background:#ec7427"></div><div class="abs" style="left:389.1px;top:308px;font-size:11px;line-height:16px;color:#52545c;white-space:nowrap">cluster nccp-silverlight</div>
<div class="abs" style="left:509px;top:314px;width:12px;height:3px;background:#de3c2f"></div><div class="abs" style="left:525.5px;top:308px;font-size:11px;line-height:16px;color:#52545c;white-space:nowrap">cluster nccp-wii</div>
<div class="abs" style="left:611.8px;top:314px;width:12px;height:3px;background:#1266bd"></div><div class="abs" style="left:628px;top:308px;font-size:11px;line-height:16px;color:#52545c;white-space:nowrap">cluster nccp-xbox</div>
<!-- resize handle -->
<div class="abs" style="left:597px;top:330.8px;width:150px;height:6px;background:#c7d0d9;border-radius:3px"></div>
<div class="abs" style="left:606px;top:332.5px;width:132px;height:2px;background:repeating-linear-gradient(90deg,#9fa7b3 0 2px,transparent 2px 4px)"></div>

<!-- query editor area -->
<div class="abs" style="left:72px;top:361px;width:820px;height:360px;background:#fff;border-radius:3px;box-shadow:0 0 3px rgba(50,60,80,0.22),0 0 12px rgba(50,60,80,0.14)"></div>
<div class="abs" style="left:92px;top:372px;font-size:17px;line-height:22px;color:#52545c">Query</div>
<div class="abs" style="left:159px;top:366px;width:199px;height:34px;border:1px solid #dde4ed;border-radius:3px;background:#fff"></div>
<svg class="abs" style="left:171px;top:377px" width="13" height="15" viewBox="0 0 13 15"><circle cx="6.5" cy="6.6" r="5.2" fill="none" stroke="#1a1a1a" stroke-width="1.15"/><ellipse cx="6.5" cy="6.6" rx="2.2" ry="5" fill="none" stroke="#1a1a1a" stroke-width="1"/><path d="M1.5,6.6H11.5" stroke="#1a1a1a" stroke-width="0.7" stroke-dasharray="1 1"/><path d="M4.2,11.7H8.8L7.8,13.5H5.2Z" fill="#111"/></svg>
<div class="abs" style="left:196px;top:375px;font-size:14px;line-height:17px;color:#41444b">default</div>
<svg class="abs" style="left:340px;top:381px" width="8" height="5"><path d="M0.3,0.3 H6.9 L3.6,3.9Z" fill="#41444b"/></svg>

<div class="abs" style="left:87px;top:440px;width:800px;height:35px;background:#f4f5f8"></div>
<svg class="abs" style="left:95px;top:455px" width="9" height="6"><path d="M0,0.3H8.2L4.1,5.3Z" fill="#6e7077"/></svg>
<div class="abs kw" style="left:108px;top:448px;font-size:14.5px;line-height:18px">A</div>

<div class="abs" style="left:127px;top:512px;width:97px;height:39px;background:#f4f5f8"></div>
<div class="abs med" style="left:127px;top:477px;width:94px;height:35px;background:#dde4ed;border-radius:3px 0 0 3px;font-size:12px;line-height:37px;padding-left:9px;color:#41444b">Query</div>
<div class="abs" style="left:223px;top:477px;width:700px;height:72px;border:1px solid #dde4ed;border-radius:3px;background:#fff"></div>
<div class="abs" style="left:232px;top:487.5px;font-family:'Liberation Mono',monospace;font-size:13.1px;letter-spacing:-0.19px;line-height:18px;color:#4a4c52;white-space:pre;-webkit-text-stroke-width:0.2px">name<span style="color:#f2622d">,</span><span style="color:#3aa446">sps</span><span style="color:#f2622d">,</span><span style="color:#3274d9">:eq</span><span style="color:#f2622d">,</span>
<span style="color:#f2622d">(,</span>nf.cluster<span style="color:#f2622d">,),</span><span style="color:#3274d9">:by</span><span style="color:#f2622d">,</span>
<span style="color:#3aa446">'cluster $nf.cluster'</span><span style="color:#f2622d">,</span><span style="color:#3274d9">:legend</span></div>

<div class="abs" style="left:87px;top:571px;width:800px;height:77px;background:#f4f5f8;border-radius:3px"></div>
<div class="abs med" style="left:107px;top:591px;width:137px;height:35px;background:#dde4ed;border-radius:3px 0 0 3px;font-size:12px;line-height:38px;padding-left:9px;color:#41444b">Relative time</div>
<div class="abs" style="left:243px;top:591px;width:80px;height:35px;background:#fff;border:1px solid #dde4ed;border-radius:0 3px 3px 0;font-size:13.8px;line-height:36px;padding-left:8.6px;color:#aab6c5">1h</div>
<div class="abs med" style="left:327px;top:591px;width:72px;height:35px;background:#dde4ed;border-radius:3px 0 0 3px;font-size:12px;line-height:38px;padding-left:9px;color:#41444b">Time shift</div>
<div class="abs" style="left:399px;top:591px;width:79px;height:35px;background:#fff;border:1px solid #dde4ed;border-radius:0 3px 3px 0;font-size:13.8px;line-height:36px;padding-left:8.6px;color:#aab6c5">1h</div>

<!-- sidebar -->
<div class="abs" style="left:29px;top:440px;width:1.8px;height:180px;background:#202228"></div>
<svg class="abs" style="left:0;top:400px" width="70" height="60" viewBox="0 400 70 60">
 <defs><linearGradient id="og" gradientUnits="userSpaceOnUse" x1="0" y1="405" x2="0" y2="449"><stop offset="0" stop-color="#f04e23"/><stop offset="1" stop-color="#f7911c"/></linearGradient></defs>
 <path d="M29.8,405.1 A21.8,21.8 0 0 1 46.2,412.6 L61,427 L46.2,441.4 A21.8,21.8 0 1 1 29.8,405.1Z" fill="url(#og)"/>
 <circle cx="29.8" cy="427" r="19.2" fill="#fff"/>
 <g fill="url(#og)">
  <ellipse cx="29.55" cy="421.8" rx="11.45" ry="5.3"/>
  <path d="M18.1,426 A11.45,6.1 0 0 0 41,426 A11.45,3 0 0 1 18.1,426Z"/>
  <path d="M18.1,431 A11.45,6.3 0 0 0 41,431 A11.45,3.4 0 0 1 18.1,431Z"/>
 </g>
</svg>
<svg class="abs" style="left:0;top:470px" width="70" height="190" viewBox="0 470 70 190">
 <g fill="#fff" stroke="#41444b" stroke-width="2.5">
  <circle cx="29.8" cy="496" r="20.4"/>
  <circle cx="29.8" cy="565" r="20.4"/>
  <circle cx="29.8" cy="634" r="20.4"/>
 </g>
 <g fill="#4d5058">
  <path d="M17,486.2H18.8V503.1H42.9V504.9H17Z"/>
  <path d="M20.4,501.7V493.3L23.6,491L28.4,496.4L35.4,486.8L41.9,495.4V501.7Z"/>
 </g>
 <g fill="#4d5058" transform="translate(29.75 564)">
  <circle r="8.2"/>
  <g id="tooth"><rect x="-1.45" y="-10.8" width="2.9" height="4.2" rx="0.4"/></g>
  <use href="#tooth" transform="rotate(36)"/><use href="#tooth" transform="rotate(72)"/><use href="#tooth" transform="rotate(108)"/><use href="#tooth" transform="rotate(144)"/><use href="#tooth" transform="rotate(180)"/><use href="#tooth" transform="rotate(216)"/><use href="#tooth" transform="rotate(252)"/><use href="#tooth" transform="rotate(288)"/><use href="#tooth" transform="rotate(324)"/>
  <circle r="5.4" fill="#fff"/>
  <path d="M0,0L8.3,10.4" stroke="#fff" stroke-width="5.4" stroke-linecap="round"/>
  <circle cx="-0.2" cy="-0.3" r="3.9"/>
  <path d="M0,0L8.3,10.4" stroke="#4d5058" stroke-width="3.2" stroke-linecap="round"/>
  <path d="M-0.9,-1L-4.2,-4.3" stroke="#fff" stroke-width="2.2"/>
  <circle cx="7.9" cy="9.9" r="0.75" fill="#fff"/>
 </g>
 <path d="M28.3,622.9 Q28.6,621.4 29.7,621.4 Q30.8,621.4 31.1,622.9 C35,624.2 37.1,627.5 37.1,632.5 V638.1 L39.9,639.4 V640.9 H19.6 V639.4 L22.4,638.1 V632.5 C22.4,627.5 24.4,624.2 28.3,622.9Z M26.2,643 H33.2 A3.5,2.9 0 0 1 26.2,643Z" fill="#4d5058"/>
</svg>
</body></html>
